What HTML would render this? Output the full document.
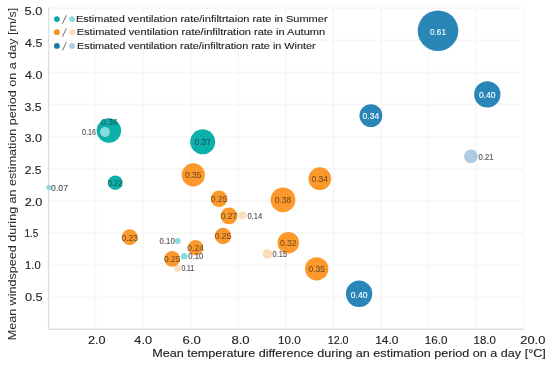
<!DOCTYPE html>
<html><head><meta charset="utf-8"><title>Bubble chart</title>
<style>
html,body{margin:0;padding:0;background:#fff;}
body{width:550px;height:368px;overflow:hidden;}
svg{display:block;font-family:"Liberation Sans",sans-serif;will-change:transform;}
</style></head><body>
<svg width="550" height="368" viewBox="0 0 550 368">
<rect width="550" height="368" fill="#fff"/>
<g stroke="#f7f7f7" stroke-width="1.6">
<line x1="95.57" y1="7.9" x2="95.57" y2="329"/>
<line x1="143.14" y1="7.9" x2="143.14" y2="329"/>
<line x1="190.71" y1="7.9" x2="190.71" y2="329"/>
<line x1="238.28" y1="7.9" x2="238.28" y2="329"/>
<line x1="285.85" y1="7.9" x2="285.85" y2="329"/>
<line x1="333.42" y1="7.9" x2="333.42" y2="329"/>
<line x1="380.99" y1="7.9" x2="380.99" y2="329"/>
<line x1="428.56" y1="7.9" x2="428.56" y2="329"/>
<line x1="476.13" y1="7.9" x2="476.13" y2="329"/>
<line x1="523.70" y1="7.9" x2="523.70" y2="329"/>
<line x1="48.6" y1="297.41" x2="523.7" y2="297.41"/>
<line x1="48.6" y1="265.27" x2="523.7" y2="265.27"/>
<line x1="48.6" y1="233.13" x2="523.7" y2="233.13"/>
<line x1="48.6" y1="200.99" x2="523.7" y2="200.99"/>
<line x1="48.6" y1="168.85" x2="523.7" y2="168.85"/>
<line x1="48.6" y1="136.71" x2="523.7" y2="136.71"/>
<line x1="48.6" y1="104.57" x2="523.7" y2="104.57"/>
<line x1="48.6" y1="72.43" x2="523.7" y2="72.43"/>
<line x1="48.6" y1="40.29" x2="523.7" y2="40.29"/>
<line x1="48.6" y1="8.15" x2="523.7" y2="8.15"/>
</g>
<g stroke="#e0e0e0" stroke-width="1.4">
<line x1="48.6" y1="7.6" x2="48.6" y2="330"/>
<line x1="47.9" y1="329.3" x2="524.2" y2="329.3"/>
</g>
<text transform="translate(15.7,340.3) rotate(-90)" font-size="10.6" fill="#2b2b2b" textLength="332.5" lengthAdjust="spacingAndGlyphs">Mean windspeed during an estimation period on a day [m/s]</text>
<circle cx="177.6" cy="268.4" r="3.40" fill="#fddcbb"/>
<circle cx="242.3" cy="215.5" r="3.90" fill="#fddcbb"/>
<circle cx="267.3" cy="254.0" r="4.80" fill="#fddcbb"/>
<circle cx="470.9" cy="156.4" r="6.90" fill="#aecce0"/>
<circle cx="108.9" cy="130.6" r="12.25" fill="#0cb0aa"/>
<circle cx="115.3" cy="182.7" r="7.30" fill="#0cb0aa"/>
<circle cx="202.7" cy="141.8" r="12.50" fill="#0cb0aa"/>
<circle cx="193.3" cy="174.9" r="11.60" fill="#fd982a"/>
<circle cx="219.1" cy="198.8" r="8.30" fill="#fd982a"/>
<circle cx="229.0" cy="215.9" r="8.45" fill="#fd982a"/>
<circle cx="223.0" cy="236.0" r="8.25" fill="#fd982a"/>
<circle cx="195.6" cy="247.7" r="7.60" fill="#fd982a"/>
<circle cx="172.2" cy="258.9" r="7.90" fill="#fd982a"/>
<circle cx="129.7" cy="237.1" r="7.85" fill="#fd982a"/>
<circle cx="283.0" cy="199.8" r="12.40" fill="#fd982a"/>
<circle cx="319.8" cy="178.7" r="11.40" fill="#fd982a"/>
<circle cx="288.3" cy="242.7" r="10.75" fill="#fd982a"/>
<circle cx="316.7" cy="268.8" r="11.65" fill="#fd982a"/>
<circle cx="438.0" cy="30.7" r="20.30" fill="#2b86b8"/>
<circle cx="487.3" cy="94.4" r="13.15" fill="#2b86b8"/>
<circle cx="370.9" cy="115.6" r="11.45" fill="#2b86b8"/>
<circle cx="359.1" cy="293.8" r="13.20" fill="#2b86b8"/>
<circle cx="105.0" cy="132.0" r="5.00" fill="#86dbe3"/>
<circle cx="48.9" cy="187.6" r="2.50" fill="#86dbe3"/>
<circle cx="177.7" cy="241.0" r="3.00" fill="#86dbe3"/>
<circle cx="184.2" cy="256.3" r="3.30" fill="#86dbe3"/>
<text x="109.5" y="125.20" font-size="8.8" fill="rgba(40,40,40,0.66)" stroke="rgba(40,40,40,0.66)" stroke-width="0.05" text-anchor="middle" textLength="16.6" lengthAdjust="spacingAndGlyphs">0.36</text>
<text x="115.0" y="186.00" font-size="8.8" fill="rgba(40,40,40,0.66)" stroke="rgba(40,40,40,0.66)" stroke-width="0.05" text-anchor="middle" textLength="15.2" lengthAdjust="spacingAndGlyphs">0.22</text>
<text x="202.7" y="145.20" font-size="8.8" fill="rgba(40,40,40,0.66)" stroke="rgba(40,40,40,0.66)" stroke-width="0.05" text-anchor="middle" textLength="16.6" lengthAdjust="spacingAndGlyphs">0.37</text>
<text x="193.3" y="178.30" font-size="8.8" fill="rgba(40,40,40,0.66)" stroke="rgba(40,40,40,0.66)" stroke-width="0.05" text-anchor="middle" textLength="16.6" lengthAdjust="spacingAndGlyphs">0.35</text>
<text x="219.1" y="202.20" font-size="8.8" fill="rgba(40,40,40,0.66)" stroke="rgba(40,40,40,0.66)" stroke-width="0.05" text-anchor="middle" textLength="16.6" lengthAdjust="spacingAndGlyphs">0.25</text>
<text x="229.0" y="219.30" font-size="8.8" fill="rgba(40,40,40,0.66)" stroke="rgba(40,40,40,0.66)" stroke-width="0.05" text-anchor="middle" textLength="16.6" lengthAdjust="spacingAndGlyphs">0.27</text>
<text x="223.0" y="239.40" font-size="8.8" fill="rgba(40,40,40,0.66)" stroke="rgba(40,40,40,0.66)" stroke-width="0.05" text-anchor="middle" textLength="16.6" lengthAdjust="spacingAndGlyphs">0.25</text>
<text x="195.6" y="251.10" font-size="8.8" fill="rgba(40,40,40,0.66)" stroke="rgba(40,40,40,0.66)" stroke-width="0.05" text-anchor="middle" textLength="16.6" lengthAdjust="spacingAndGlyphs">0.24</text>
<text x="172.2" y="262.30" font-size="8.8" fill="rgba(40,40,40,0.66)" stroke="rgba(40,40,40,0.66)" stroke-width="0.05" text-anchor="middle" textLength="16.6" lengthAdjust="spacingAndGlyphs">0.25</text>
<text x="129.7" y="240.50" font-size="8.8" fill="rgba(40,40,40,0.66)" stroke="rgba(40,40,40,0.66)" stroke-width="0.05" text-anchor="middle" textLength="16.6" lengthAdjust="spacingAndGlyphs">0.23</text>
<text x="283.0" y="203.20" font-size="8.8" fill="rgba(40,40,40,0.66)" stroke="rgba(40,40,40,0.66)" stroke-width="0.05" text-anchor="middle" textLength="16.6" lengthAdjust="spacingAndGlyphs">0.38</text>
<text x="319.8" y="182.10" font-size="8.8" fill="rgba(40,40,40,0.66)" stroke="rgba(40,40,40,0.66)" stroke-width="0.05" text-anchor="middle" textLength="16.6" lengthAdjust="spacingAndGlyphs">0.34</text>
<text x="288.3" y="246.10" font-size="8.8" fill="rgba(40,40,40,0.66)" stroke="rgba(40,40,40,0.66)" stroke-width="0.05" text-anchor="middle" textLength="16.6" lengthAdjust="spacingAndGlyphs">0.32</text>
<text x="316.7" y="272.20" font-size="8.8" fill="rgba(40,40,40,0.66)" stroke="rgba(40,40,40,0.66)" stroke-width="0.05" text-anchor="middle" textLength="16.6" lengthAdjust="spacingAndGlyphs">0.35</text>
<text x="438.0" y="34.60" font-size="8.8" fill="#fff" stroke="#fff" stroke-width="0.12" text-anchor="middle" textLength="15.8" lengthAdjust="spacingAndGlyphs">0.61</text>
<text x="487.3" y="98.20" font-size="8.8" fill="#fff" stroke="#fff" stroke-width="0.12" text-anchor="middle" textLength="16.6" lengthAdjust="spacingAndGlyphs">0.40</text>
<text x="370.9" y="119.40" font-size="8.8" fill="#fff" stroke="#fff" stroke-width="0.12" text-anchor="middle" textLength="16.6" lengthAdjust="spacingAndGlyphs">0.34</text>
<text x="359.1" y="297.60" font-size="8.8" fill="#fff" stroke="#fff" stroke-width="0.12" text-anchor="middle" textLength="16.6" lengthAdjust="spacingAndGlyphs">0.40</text>
<text x="24.92" y="300.60" font-size="10.9" fill="#222" stroke="#222" stroke-width="0.12" textLength="17.72" lengthAdjust="spacingAndGlyphs">0.5</text>
<text x="25.14" y="268.92" font-size="10.9" fill="#222" stroke="#222" stroke-width="0.12" textLength="15.57" lengthAdjust="spacingAndGlyphs">1.0</text>
<text x="24.47" y="237.24" font-size="10.9" fill="#222" stroke="#222" stroke-width="0.12" textLength="13.83" lengthAdjust="spacingAndGlyphs">1.5</text>
<text x="24.68" y="205.56" font-size="10.9" fill="#222" stroke="#222" stroke-width="0.12" textLength="17.75" lengthAdjust="spacingAndGlyphs">2.0</text>
<text x="24.72" y="173.88" font-size="10.9" fill="#222" stroke="#222" stroke-width="0.12" textLength="16.83" lengthAdjust="spacingAndGlyphs">2.5</text>
<text x="24.53" y="142.20" font-size="10.9" fill="#222" stroke="#222" stroke-width="0.12" textLength="17.50" lengthAdjust="spacingAndGlyphs">3.0</text>
<text x="24.63" y="110.52" font-size="10.9" fill="#222" stroke="#222" stroke-width="0.12" textLength="16.99" lengthAdjust="spacingAndGlyphs">3.5</text>
<text x="25.06" y="78.84" font-size="10.9" fill="#222" stroke="#222" stroke-width="0.12" textLength="17.32" lengthAdjust="spacingAndGlyphs">4.0</text>
<text x="25.07" y="47.16" font-size="10.9" fill="#222" stroke="#222" stroke-width="0.12" textLength="17.33" lengthAdjust="spacingAndGlyphs">4.5</text>
<text x="24.62" y="15.48" font-size="10.9" fill="#222" stroke="#222" stroke-width="0.12" textLength="17.78" lengthAdjust="spacingAndGlyphs">5.0</text>
<text x="88.05" y="343.60" font-size="10.9" fill="#222" stroke="#222" stroke-width="0.12" textLength="17.56" lengthAdjust="spacingAndGlyphs">2.0</text>
<text x="134.38" y="343.60" font-size="10.9" fill="#222" stroke="#222" stroke-width="0.12" textLength="17.72" lengthAdjust="spacingAndGlyphs">4.0</text>
<text x="182.61" y="343.60" font-size="10.9" fill="#222" stroke="#222" stroke-width="0.12" textLength="18.19" lengthAdjust="spacingAndGlyphs">6.0</text>
<text x="231.43" y="343.60" font-size="10.9" fill="#222" stroke="#222" stroke-width="0.12" textLength="18.24" lengthAdjust="spacingAndGlyphs">8.0</text>
<text x="278.14" y="343.60" font-size="10.9" fill="#222" stroke="#222" stroke-width="0.12" textLength="22.74" lengthAdjust="spacingAndGlyphs">10.0</text>
<text x="327.73" y="343.60" font-size="10.9" fill="#222" stroke="#222" stroke-width="0.12" textLength="20.87" lengthAdjust="spacingAndGlyphs">12.0</text>
<text x="375.16" y="343.60" font-size="10.9" fill="#222" stroke="#222" stroke-width="0.12" textLength="23.29" lengthAdjust="spacingAndGlyphs">14.0</text>
<text x="424.75" y="343.60" font-size="10.9" fill="#222" stroke="#222" stroke-width="0.12" textLength="22.69" lengthAdjust="spacingAndGlyphs">16.0</text>
<text x="473.59" y="343.60" font-size="10.9" fill="#222" stroke="#222" stroke-width="0.12" textLength="22.30" lengthAdjust="spacingAndGlyphs">18.0</text>
<text x="520.27" y="343.60" font-size="10.9" fill="#222" stroke="#222" stroke-width="0.12" textLength="25.09" lengthAdjust="spacingAndGlyphs">20.0</text>
<text x="152.22" y="356.90" font-size="10.6" fill="#222" stroke="#222" stroke-width="0.12" textLength="393.58" lengthAdjust="spacingAndGlyphs">Mean temperature difference during an estimation period on a day [°C]</text>
<text x="75.98" y="21.80" font-size="9.5" fill="#222" stroke="#222" stroke-width="0.12" textLength="251.58" lengthAdjust="spacingAndGlyphs">Estimated ventilation rate/infiltrtaion rate in Summer</text>
<text x="76.74" y="35.30" font-size="9.5" fill="#222" stroke="#222" stroke-width="0.12" textLength="248.39" lengthAdjust="spacingAndGlyphs">Estimated ventilation rate/infiltration rate in Autumn</text>
<text x="76.97" y="48.90" font-size="9.5" fill="#222" stroke="#222" stroke-width="0.12" textLength="238.73" lengthAdjust="spacingAndGlyphs">Estimated ventilation rate/infiltration rate in Winter</text>
<text x="82.06" y="134.60" font-size="8.2" fill="#525252" stroke="#525252" stroke-width="0.12" textLength="13.87" lengthAdjust="spacingAndGlyphs">0.16</text>
<text x="51.14" y="190.80" font-size="8.2" fill="#525252" stroke="#525252" stroke-width="0.12" textLength="16.91" lengthAdjust="spacingAndGlyphs">0.07</text>
<text x="159.58" y="243.90" font-size="8.2" fill="#525252" stroke="#525252" stroke-width="0.12" textLength="15.18" lengthAdjust="spacingAndGlyphs">0.10</text>
<text x="188.36" y="258.90" font-size="8.2" fill="#525252" stroke="#525252" stroke-width="0.12" textLength="14.93" lengthAdjust="spacingAndGlyphs">0.10</text>
<text x="247.38" y="218.80" font-size="8.2" fill="#525252" stroke="#525252" stroke-width="0.12" textLength="14.72" lengthAdjust="spacingAndGlyphs">0.14</text>
<text x="181.46" y="270.70" font-size="8.2" fill="#525252" stroke="#525252" stroke-width="0.12" textLength="12.72" lengthAdjust="spacingAndGlyphs">0.11</text>
<text x="272.61" y="256.80" font-size="8.2" fill="#525252" stroke="#525252" stroke-width="0.12" textLength="14.46" lengthAdjust="spacingAndGlyphs">0.15</text>
<text x="478.60" y="160.00" font-size="8.2" fill="#525252" stroke="#525252" stroke-width="0.12" textLength="15.07" lengthAdjust="spacingAndGlyphs">0.21</text>
<circle cx="56.9" cy="19.1" r="2.9" fill="#08a9a6"/>
<line x1="66.4" y1="15.3" x2="62.4" y2="23.7" stroke="#555" stroke-width="0.85"/>
<circle cx="72.1" cy="19.1" r="2.9" fill="#86dbe3"/>
<circle cx="56.9" cy="32.2" r="2.9" fill="#fb8e1c"/>
<line x1="66.4" y1="28.4" x2="62.4" y2="36.8" stroke="#555" stroke-width="0.85"/>
<circle cx="72.1" cy="32.2" r="2.9" fill="#fddcbb"/>
<circle cx="56.9" cy="45.9" r="2.9" fill="#1f76ab"/>
<line x1="66.4" y1="42.1" x2="62.4" y2="50.5" stroke="#555" stroke-width="0.85"/>
<circle cx="72.1" cy="45.9" r="2.9" fill="#aecce0"/>
</svg>
</body></html>
